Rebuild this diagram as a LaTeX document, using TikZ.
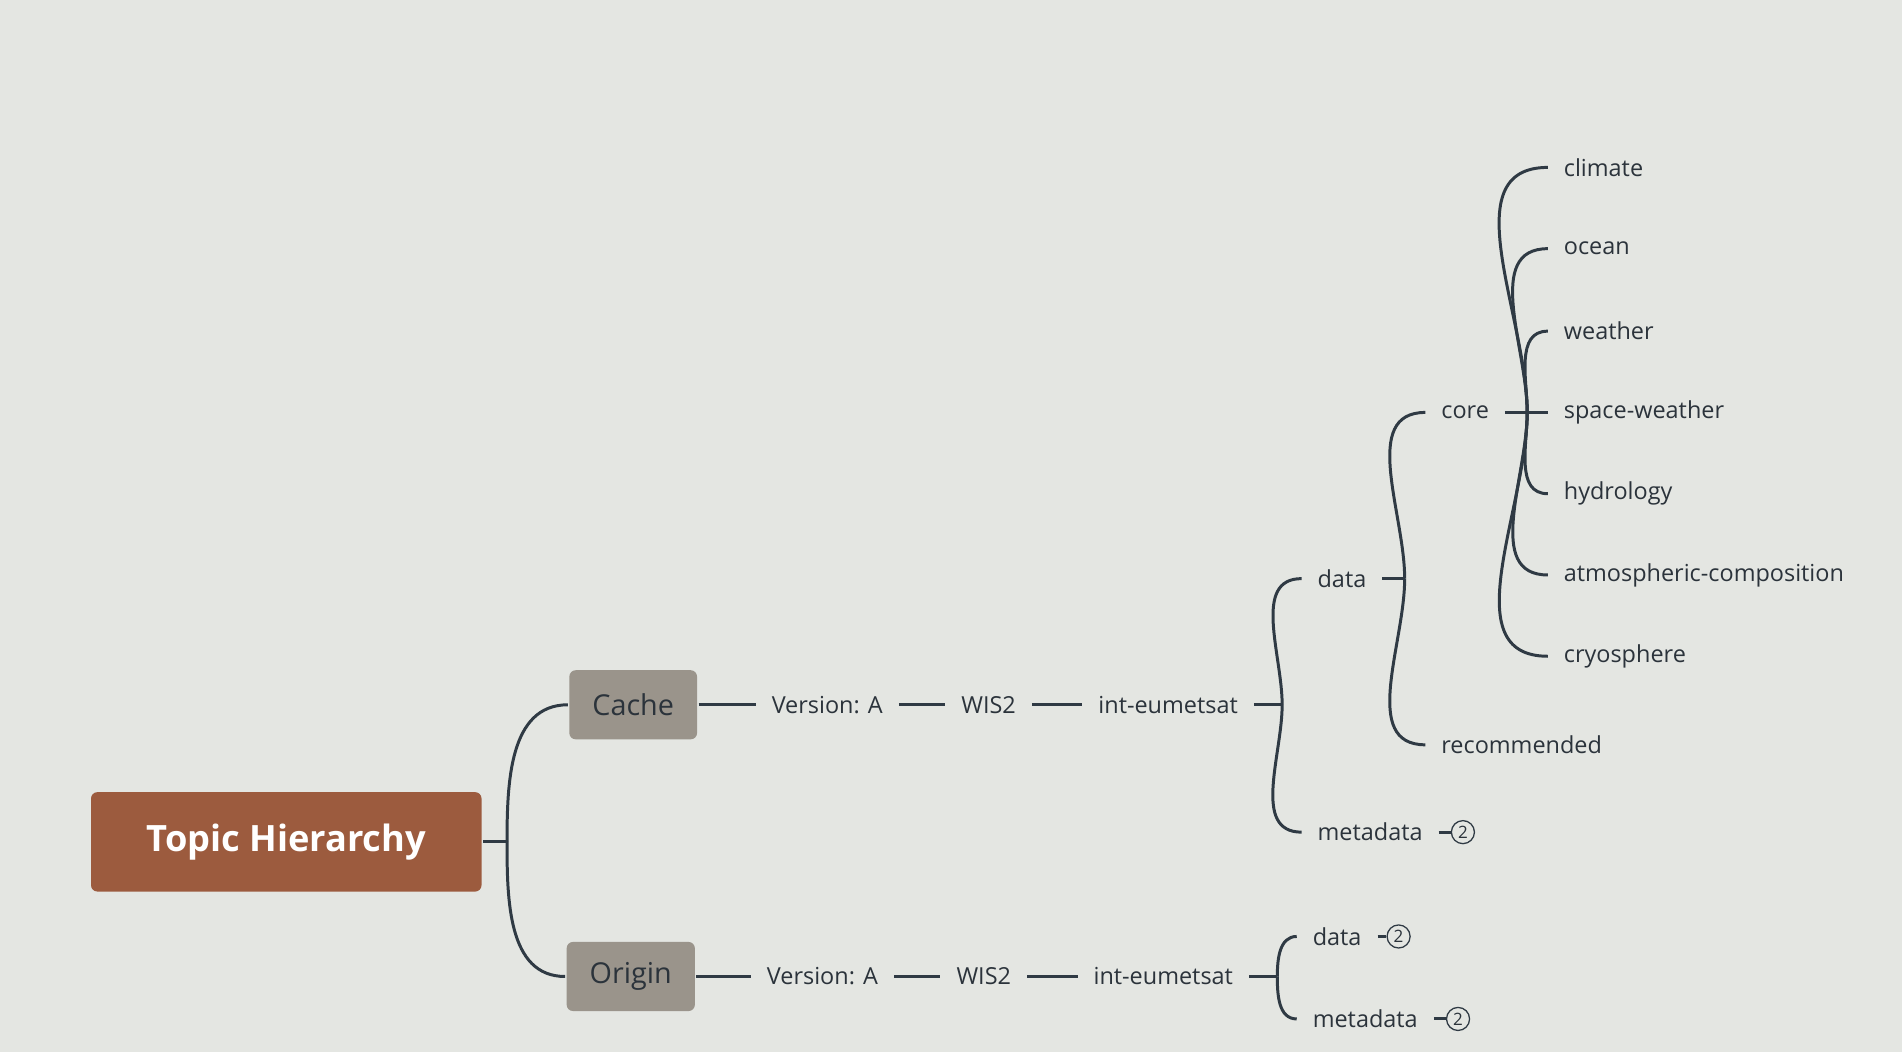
\documentclass[tikz,border=0pt]{standalone}
\usepackage{fontspec}
\setmainfont{Open Sans}
\definecolor{bgc}{HTML}{E4E6E2}
\definecolor{linec}{HTML}{2F3A44}
\definecolor{textc}{HTML}{2B333B}
\definecolor{rootc}{HTML}{9C5B3E}
\definecolor{boxc}{HTML}{9A948B}
\begin{document}
\begin{tikzpicture}[x=0.02cm,y=-0.02cm,
    line width=1.4pt,draw=linec,
    root node/.style={fill=rootc,rounded corners=3pt,minimum width=6.44cm,minimum height=1.64cm,
      text=white,font=\fontsize{17}{20}\selectfont\bfseries},
    box node/.style={fill=boxc,rounded corners=3pt,minimum height=1.14cm,inner xsep=0.38cm,
      text=textc,font=\fontsize{13.5}{16}\selectfont},
    topic/.style={text=textc,inner xsep=0.24cm,inner ysep=2pt,font=\fontsize{11}{13}\selectfont},
    leaf/.style={topic,anchor=west},
    badge/.style={circle,draw=linec,line width=0.6pt,inner sep=0pt,minimum size=0.38cm,
      text=textc,font=\fontsize{8}{9}\selectfont},
    up/.style={out=90,in=180},
    down/.style={out=-90,in=180}
  ]
  \fill[bgc] (0,0) rectangle (1568,867);
  \useasboundingbox (0,0) rectangle (1568,867);

  % root and branches
  \node[root node] (root) at (236,694) {Topic Hierarchy};
  \node[box node] (cache) at (522,581) {Cache};
  \node[box node] (origin) at (520,805) {Origin};
  \coordinate (j0) at (418,694);
  \draw (root.east) -- (j0);
  \draw (j0) to[up] (cache.west);
  \draw (j0) to[down] (origin.west);

  % cache chain
  \node[topic] (cver) at (682,581) {Version: A};
  \node[topic] (cwis) at (815,581) {WIS2};
  \node[topic] (corg) at (963,581) {int-eumetsat};
  \draw (cache.east) -- (cver.west);
  \draw (cver.east) -- (cwis.west);
  \draw (cwis.east) -- (corg.west);
  \node[leaf] (cdata) at (1073,477) {data};
  \node[leaf] (cmeta) at (1073,686) {metadata};
  \node[badge] (cmetab) at (1206,686) {2};
  \coordinate (j1) at (1057,581);
  \draw (corg.east) -- (j1);
  \draw (j1) to[up] (cdata.west);
  \draw (j1) to[down] (cmeta.west);
  \draw (cmeta.east) -- (cmetab.west);

  % data
  \node[leaf] (core) at (1175,340) {core};
  \node[leaf] (recom) at (1175,614) {recommended};
  \coordinate (j2) at (1158,477);
  \draw (cdata.east) -- (j2);
  \draw (j2) to[up] (core.west);
  \draw (j2) to[down] (recom.west);

  % core
  \coordinate (j3) at (1259,340);
  \draw (core.east) -- (j3);
  \foreach \name/\txt/\y in {climate/climate/138,ocean/ocean/205,weather/weather/273}
    {\node[leaf] (\name) at (1276,\y) {\txt};
     \draw (j3) to[up] (\name.west);}
  \node[leaf] (space) at (1276,340) {space-weather};
  \draw (j3) -- (space.west);
  \foreach \name/\txt/\y in {hydro/hydrology/407,atmos/atmospheric-composition/474,cryo/cryosphere/541}
    {\node[leaf] (\name) at (1276,\y) {\txt};
     \draw (j3) to[down] (\name.west);}

  % origin chain
  \node[topic] (over) at (678,805) {Version: A};
  \node[topic] (owis) at (811,805) {WIS2};
  \node[topic] (oorg) at (959,805) {int-eumetsat};
  \draw (origin.east) -- (over.west);
  \draw (over.east) -- (owis.west);
  \draw (owis.east) -- (oorg.west);
  \node[leaf] (odata) at (1069,772) {data};
  \node[badge] (odatab) at (1153,772) {2};
  \node[leaf] (ometa) at (1069,840) {metadata};
  \node[badge] (ometab) at (1202,840) {2};
  \coordinate (j4) at (1053,805);
  \draw (oorg.east) -- (j4);
  \draw (j4) to[up] (odata.west);
  \draw (j4) to[down] (ometa.west);
  \draw (odata.east) -- (odatab.west);
  \draw (ometa.east) -- (ometab.west);
\end{tikzpicture}
\end{document}
